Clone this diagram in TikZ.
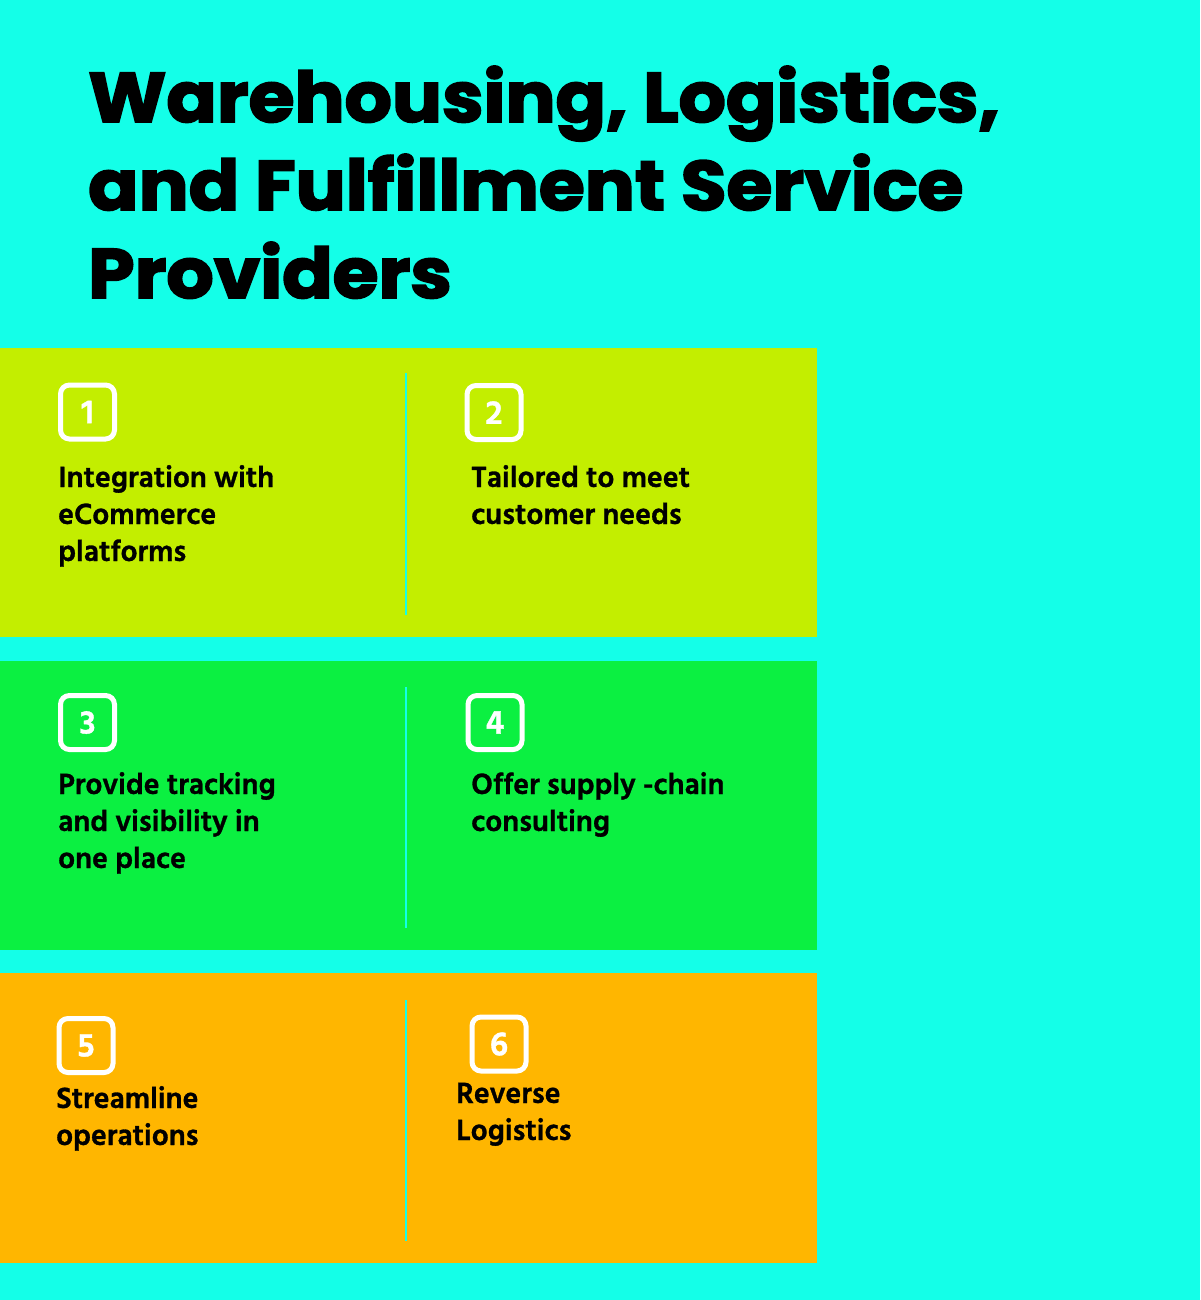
\documentclass[tikz,border=0pt]{standalone}
\usepackage{fontspec}
\setmainfont{Fira Sans}
\newfontfamily\titlefont[BoldFeatures={FakeBold=2.5}]{Poppins}
\newfontfamily\bodyfont[BoldFeatures={FakeBold=1}]{Hind Siliguri}
\definecolor{bgcyan}{HTML}{14FFE8}
\definecolor{lime}{HTML}{C3EE00}
\definecolor{brgreen}{HTML}{0BF041}
\definecolor{orangeband}{HTML}{FFB600}
\newcommand\itemlines[1]{\vtop{\baselineskip=37pt\lineskiplimit=-100pt\lineskip=0pt #1}}
\newcommand\widen[1]{\scalebox{1.062}[1]{#1}}
\tikzset{
  band/.style={fill=#1, draw=none},
  divider/.style={draw=bgcyan, line width=1.6pt},
  numbox/.style={draw=white, line width=5pt, rounded corners=9pt, minimum width=54pt, minimum height=54pt, inner sep=0pt, text=white, font=\bodyfont\bfseries\fontsize{34}{34}\selectfont},
  itemtext/.style={anchor=base west, inner sep=0pt, font=\bodyfont\bfseries\fontsize{30}{37}\selectfont},
  titleline/.style={anchor=base west, inner sep=0pt, font=\titlefont\bfseries\fontsize{70}{88}\selectfont}
}
\begin{document}
\begin{tikzpicture}[x=1pt,y=-1pt]
\useasboundingbox (0,0) rectangle (1200,1300);
\fill[bgcyan] (0,0) rectangle (1200,1300);
% title
\node[titleline] (t1) at (88,122) {\widen{Warehousing, Logistics,}};
\node[titleline] (t2) at (88,210) {\widen{and Fulfillment Service}};
\node[titleline] (t3) at (88,298) {\widen{Providers}};
% bands
\path[band=lime] (0,348) rectangle (817,637);
\path[band=brgreen] (0,661) rectangle (817,950);
\path[band=orangeband] (0,973) rectangle (817,1263);
% dividers
\coordinate (d1a) at (406,373); \coordinate (d1b) at (406,615);
\coordinate (d2a) at (406,687); \coordinate (d2b) at (406,928);
\coordinate (d3a) at (406,1000); \coordinate (d3b) at (406,1241);
\draw[divider] (d1a) -- (d1b);
\draw[divider] (d2a) -- (d2b);
\draw[divider] (d3a) -- (d3b);
% number boxes
\node[numbox] (n1) at (87.5,412) {1};
\node[numbox] (n2) at (494,412.5) {2};
\node[numbox] (n3) at (87.5,722.5) {3};
\node[numbox] (n4) at (495,722.5) {4};
\node[numbox] (n5) at (86,1045.5) {5};
\node[numbox] (n6) at (499,1044) {6};
% texts
\node[itemtext] (i1) at (58,487) {\itemlines{\hbox{Integration with}\hbox{eCommerce}\hbox{platforms}}};
\node[itemtext] (i2) at (471,487) {\itemlines{\hbox{Tailored to meet}\hbox{customer needs}}};
\node[itemtext] (i3) at (58,794) {\itemlines{\hbox{Provide tracking}\hbox{and visibility in}\hbox{one place}}};
\node[itemtext] (i4) at (471,794) {\itemlines{\hbox{Offer supply -chain}\hbox{consulting}}};
\node[itemtext] (i5) at (56,1108) {\itemlines{\hbox{Streamline}\hbox{operations}}};
\node[itemtext] (i6) at (456,1103) {\itemlines{\hbox{Reverse}\hbox{Logistics}}};
\end{tikzpicture}
\end{document}
